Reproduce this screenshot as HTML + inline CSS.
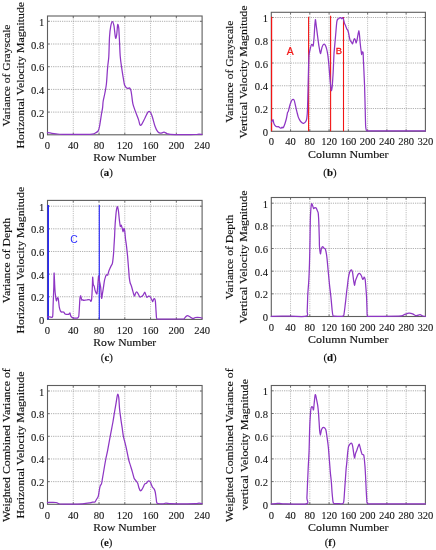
<!DOCTYPE html>
<html><head><meta charset="utf-8"><title>Figure</title>
<style>
html,body{margin:0;padding:0;background:#fff;}
body{width:436px;height:550px;overflow:hidden;}
svg{display:block;}
text{font-family:"Liberation Serif",serif;fill:#111;stroke:#111;stroke-width:0.15px;}
.tk{font-size:10.6px;stroke-width:0.08px;}
.lb{font-size:11.4px;}
.cap{font-size:10.8px;}
.ann{font-family:"Liberation Sans",sans-serif;font-size:10.4px;stroke-width:0.25px;}
</style></head><body>
<svg width="436" height="550" viewBox="0 0 436 550">
<rect width="436" height="550" fill="#fff"/>

<g id="plot-a">
<path d="M73.27,16.00V134.80M99.03,16.00V134.80M124.80,16.00V134.80M150.57,16.00V134.80M176.33,16.00V134.80" fill="none" stroke="#a4a4a4" stroke-width="1" stroke-dasharray="0.7 1.12"/>
<path d="M47.50,112.10H202.10M47.50,89.40H202.10M47.50,66.70H202.10M47.50,44.00H202.10M47.50,21.30H202.10" fill="none" stroke="#8e8e8e" stroke-width="1" stroke-dasharray="0.7 1.12"/>
<rect x="47.50" y="16.00" width="154.60" height="118.80" fill="none" stroke="#5e5e5e" stroke-width="1.1"/>
<path d="M73.27,16.00v2M73.27,134.80v-2M99.03,16.00v2M99.03,134.80v-2M124.80,16.00v2M124.80,134.80v-2M150.57,16.00v2M150.57,134.80v-2M176.33,16.00v2M176.33,134.80v-2M47.50,112.10h2M202.10,112.10h-2M47.50,89.40h2M202.10,89.40h-2M47.50,66.70h2M202.10,66.70h-2M47.50,44.00h2M202.10,44.00h-2M47.50,21.30h2M202.10,21.30h-2" fill="none" stroke="#5e5e5e" stroke-width="0.9"/>
<path d="M47.5,132.7C48.2,132.8 50.3,133.1 52.0,133.3C53.7,133.5 55.3,133.8 57.5,134.0C59.7,134.2 61.2,134.2 65.0,134.3C68.8,134.4 75.8,134.4 80.0,134.4C84.2,134.4 87.7,134.4 90.0,134.3C92.3,134.2 92.8,134.1 93.8,133.8C94.8,133.6 95.0,133.3 95.7,132.8C96.4,132.3 97.6,132.0 98.2,130.9C98.8,129.8 99.0,129.1 99.5,126.5C100.0,123.9 100.8,118.4 101.3,115.2C101.8,112.0 102.3,110.0 102.6,107.6C102.9,105.2 102.8,103.4 103.2,101.0C103.6,98.6 104.4,95.8 104.9,93.0C105.4,90.2 105.9,88.4 106.4,84.0C106.9,79.6 107.2,71.3 107.7,66.7C108.1,62.1 108.5,61.4 108.8,56.5C109.1,51.6 109.2,42.3 109.5,37.2C109.8,32.1 110.3,28.5 110.8,25.9C111.3,23.3 111.9,21.5 112.4,21.5C112.9,21.5 113.5,23.5 114.0,25.9C114.4,28.3 114.9,34.0 115.2,36.0C115.5,38.0 115.7,38.4 115.9,38.2C116.2,38.0 116.4,36.8 116.7,34.7C117.0,32.7 117.3,27.6 117.5,25.9C117.7,24.2 117.8,24.2 118.0,24.6C118.2,25.0 118.5,25.2 118.8,28.4C119.0,31.5 119.4,38.9 119.6,43.5C119.8,48.1 119.9,52.1 120.2,56.0C120.5,59.9 121.0,63.3 121.5,66.7C122.0,70.1 122.5,73.5 123.0,76.4C123.5,79.3 123.9,82.3 124.3,84.0C124.7,85.7 125.0,86.1 125.6,86.8C126.2,87.5 127.1,88.2 127.8,88.4C128.5,88.6 129.2,87.6 129.7,88.0C130.2,88.4 130.7,89.6 131.0,90.9C131.3,92.2 131.5,93.8 131.8,96.0C132.1,98.2 132.3,101.2 132.9,103.8C133.5,106.4 134.5,108.8 135.4,111.4C136.3,114.0 137.7,117.3 138.5,119.6C139.3,121.9 139.5,124.2 140.0,125.0C140.5,125.8 140.9,125.5 141.7,124.3C142.5,123.1 144.0,119.9 145.0,118.0C146.0,116.1 146.9,113.8 147.6,112.7C148.3,111.6 148.6,111.4 149.1,111.4C149.6,111.4 150.1,111.7 150.7,112.7C151.3,113.8 151.9,115.4 152.6,117.7C153.3,120.0 154.2,124.2 155.1,126.5C155.9,128.8 156.8,130.5 157.7,131.6C158.5,132.7 159.4,133.0 160.2,133.2C161.0,133.4 162.0,132.8 162.7,132.6C163.4,132.4 163.9,132.1 164.6,132.3C165.3,132.5 166.1,133.2 167.1,133.6C168.1,133.9 168.2,134.2 170.3,134.4C172.5,134.6 175.9,134.5 180.0,134.5C184.1,134.5 191.8,134.6 195.0,134.5C198.2,134.4 197.8,134.2 199.0,134.2C200.2,134.2 201.5,134.3 202.0,134.3" fill="none" stroke="#8e36c4" stroke-width="1.25" stroke-linejoin="round" stroke-linecap="round"/>
<text class="tk" x="47.50" y="149.40" text-anchor="middle">0</text>
<text class="tk" x="73.27" y="149.40" text-anchor="middle">40</text>
<text class="tk" x="99.03" y="149.40" text-anchor="middle">80</text>
<text class="tk" x="124.80" y="149.40" text-anchor="middle">120</text>
<text class="tk" x="150.57" y="149.40" text-anchor="middle">160</text>
<text class="tk" x="176.33" y="149.40" text-anchor="middle">200</text>
<text class="tk" x="202.10" y="149.40" text-anchor="middle">240</text>
<text class="tk" x="44.20" y="139.30" text-anchor="end">0</text>
<text class="tk" x="44.20" y="116.60" text-anchor="end">0.2</text>
<text class="tk" x="44.20" y="93.90" text-anchor="end">0.4</text>
<text class="tk" x="44.20" y="71.20" text-anchor="end">0.6</text>
<text class="tk" x="44.20" y="48.50" text-anchor="end">0.8</text>
<text class="tk" x="44.20" y="25.80" text-anchor="end">1</text>
<text class="lb" x="124.80" y="161.40" text-anchor="middle" textLength="62.9" lengthAdjust="spacingAndGlyphs">Row Number</text>
<text class="lb" transform="translate(10.0,75.5) rotate(-90)" text-anchor="middle" textLength="102.0" lengthAdjust="spacingAndGlyphs">Variance of Grayscale</text>
<text class="lb" transform="translate(24.2,75.2) rotate(-90)" text-anchor="middle" textLength="146.6" lengthAdjust="spacingAndGlyphs">Horizontal Velocity Magnitude</text>
<text class="cap" x="106.5" y="176.10" text-anchor="middle">(<tspan font-weight="bold">a</tspan>)</text>
</g>
<g id="plot-b">
<path d="M290.56,12.30V131.30M309.82,12.30V131.30M329.09,12.30V131.30M348.35,12.30V131.30M367.61,12.30V131.30M386.88,12.30V131.30M406.14,12.30V131.30" fill="none" stroke="#a4a4a4" stroke-width="1" stroke-dasharray="0.7 1.12"/>
<path d="M271.30,108.54H425.40M271.30,85.78H425.40M271.30,63.02H425.40M271.30,40.26H425.40M271.30,17.50H425.40" fill="none" stroke="#8e8e8e" stroke-width="1" stroke-dasharray="0.7 1.12"/>
<rect x="271.30" y="12.30" width="154.10" height="119.00" fill="none" stroke="#5e5e5e" stroke-width="1.1"/>
<path d="M290.56,12.30v2M290.56,131.30v-2M309.82,12.30v2M309.82,131.30v-2M329.09,12.30v2M329.09,131.30v-2M348.35,12.30v2M348.35,131.30v-2M367.61,12.30v2M367.61,131.30v-2M386.88,12.30v2M386.88,131.30v-2M406.14,12.30v2M406.14,131.30v-2M271.30,108.54h2M425.40,108.54h-2M271.30,85.78h2M425.40,85.78h-2M271.30,63.02h2M425.40,63.02h-2M271.30,40.26h2M425.40,40.26h-2M271.30,17.50h2M425.40,17.50h-2" fill="none" stroke="#5e5e5e" stroke-width="0.9"/>
<line x1="271.60" y1="16.80" x2="271.60" y2="131.30" stroke="#f21515" stroke-width="1.2"/>
<line x1="308.60" y1="16.80" x2="308.60" y2="131.30" stroke="#f21515" stroke-width="1.1"/>
<line x1="330.60" y1="15.80" x2="330.60" y2="131.30" stroke="#f21515" stroke-width="1.1"/>
<line x1="343.50" y1="17.00" x2="343.50" y2="131.30" stroke="#f21515" stroke-width="1.1"/>
<path d="M271.5,122.0C271.7,121.7 272.7,119.5 273.0,119.6C273.3,119.7 273.5,122.1 273.7,122.8C273.9,123.5 274.5,124.8 274.9,125.3C275.3,125.8 276.4,126.6 276.8,126.8C277.2,127.0 277.9,126.5 278.3,126.6C278.7,126.7 279.7,127.6 280.0,127.8C280.3,128.0 281.0,128.3 281.2,128.2C281.4,128.1 281.9,127.2 282.1,127.2C282.3,127.2 282.8,128.0 283.1,127.8C283.4,127.6 284.0,126.3 284.4,125.3C284.8,124.3 285.9,120.5 286.3,119.0C286.7,117.5 287.3,113.6 287.5,112.7C287.7,111.8 288.2,111.9 288.4,111.2C288.6,110.5 289.1,108.2 289.4,107.0C289.7,105.8 290.9,102.2 291.3,101.3C291.7,100.4 292.3,99.7 292.6,99.5C292.9,99.3 293.6,99.3 293.9,99.8C294.2,100.3 294.8,102.5 295.1,103.9C295.4,105.3 296.4,109.9 296.8,111.4C297.2,112.9 297.9,116.0 298.3,117.1C298.7,118.2 299.8,120.2 300.2,120.9C300.6,121.6 301.6,122.5 302.0,122.8C302.4,123.1 303.5,123.4 303.9,123.2C304.3,123.0 305.5,122.1 305.8,121.5C306.1,120.9 306.6,119.9 306.8,118.4C307.0,116.9 307.4,112.2 307.5,108.9C307.6,105.6 307.9,94.5 308.0,90.0C308.1,85.5 308.4,74.1 308.5,70.0C308.6,65.9 308.8,57.7 309.0,55.2C309.2,52.7 309.9,50.1 310.2,48.9C310.5,47.7 311.2,45.0 311.5,44.5C311.8,44.0 312.4,44.8 312.6,45.0C312.8,45.2 313.0,46.7 313.2,45.8C313.4,44.9 313.9,39.5 314.1,37.0C314.3,34.5 314.7,26.4 314.9,24.4C315.1,22.4 315.3,19.3 315.5,19.6C315.7,19.9 316.1,24.9 316.4,26.9C316.7,28.9 317.4,34.8 317.7,37.0C318.0,39.2 318.6,44.1 318.9,45.8C319.2,47.5 319.7,50.6 319.9,51.5C320.1,52.4 320.4,53.7 320.6,53.5C320.8,53.3 321.2,50.7 321.4,50.0C321.6,49.3 321.9,47.7 322.1,47.1C322.3,46.5 323.0,44.9 323.3,44.6C323.6,44.3 324.3,44.1 324.6,44.3C324.9,44.5 325.6,45.7 325.9,46.5C326.2,47.3 326.9,49.9 327.1,51.0C327.3,52.1 327.8,54.5 328.0,56.3C328.2,58.1 328.8,63.8 329.0,66.4C329.2,69.0 329.8,76.5 330.0,79.0C330.2,81.5 330.7,86.4 330.9,87.8C331.1,89.2 331.3,90.7 331.5,90.6C331.7,90.5 332.0,88.4 332.2,86.6C332.4,84.8 332.8,78.0 333.0,75.2C333.2,72.4 333.5,65.1 333.6,62.6C333.7,60.1 333.9,55.9 334.0,53.8C334.1,51.7 334.6,47.1 334.8,44.6C335.0,42.1 335.7,34.6 335.9,32.0C336.1,29.4 336.6,23.4 336.8,21.9C337.0,20.4 337.4,19.5 337.6,19.1C337.8,18.7 338.6,18.9 338.8,18.7C339.0,18.5 339.5,17.9 339.7,17.8C339.9,17.7 340.4,17.5 340.6,17.6C340.8,17.7 341.4,18.7 341.6,18.7C341.8,18.7 342.4,17.4 342.6,17.5C342.8,17.6 343.3,18.6 343.5,19.3C343.7,20.0 344.2,22.4 344.4,23.1C344.6,23.8 345.3,25.0 345.6,25.7C345.9,26.4 346.5,28.3 346.7,28.8C346.9,29.3 347.5,29.7 347.7,30.1C347.9,30.5 348.3,31.8 348.5,32.6C348.7,33.4 349.1,36.1 349.3,37.0C349.5,37.9 349.9,39.9 350.2,40.5C350.5,41.1 351.2,41.8 351.5,42.2C351.8,42.6 352.4,44.0 352.6,43.8C352.8,43.6 353.4,41.1 353.6,40.5C353.8,39.9 354.3,38.6 354.5,38.6C354.7,38.6 355.2,39.7 355.4,40.2C355.6,40.7 355.9,43.1 356.1,43.1C356.3,43.1 356.8,41.1 357.0,40.2C357.2,39.3 357.7,36.2 357.9,35.1C358.1,34.0 358.7,30.7 358.9,30.7C359.1,30.7 359.3,33.6 359.5,35.1C359.7,36.6 360.0,41.4 360.2,43.3C360.4,45.2 361.0,50.2 361.2,51.5C361.4,52.8 361.5,54.4 361.6,54.5C361.7,54.6 362.0,52.2 362.2,52.0C362.4,51.8 363.0,51.6 363.1,52.5C363.2,53.4 363.3,57.7 363.4,60.1C363.5,62.5 363.9,69.6 364.0,72.7C364.1,75.8 364.5,82.8 364.6,87.0C364.7,91.2 365.1,104.4 365.2,108.9C365.3,113.4 365.5,122.9 365.6,125.3C365.7,127.7 366.0,129.0 366.2,129.7C366.4,130.4 366.1,130.8 367.7,130.9C369.3,131.0 376.2,130.9 380.0,130.9C383.8,130.9 394.7,130.9 400.0,130.9C405.3,130.9 422.4,130.9 425.4,130.9" fill="none" stroke="#8e36c4" stroke-width="1.25" stroke-linejoin="round" stroke-linecap="round"/>
<text class="ann" x="286.7" y="54.6" style="fill:#f21515;stroke:#f21515;font-size:10.4px;stroke-width:0.2px">A</text>
<text class="ann" x="335.7" y="54.4" style="fill:#f21515;stroke:#f21515;font-size:9.4px;stroke-width:0.3px">B</text>
<text class="tk" x="271.30" y="145.40" text-anchor="middle">0</text>
<text class="tk" x="290.56" y="145.40" text-anchor="middle">40</text>
<text class="tk" x="309.82" y="145.40" text-anchor="middle">80</text>
<text class="tk" x="329.09" y="145.40" text-anchor="middle">120</text>
<text class="tk" x="348.35" y="145.40" text-anchor="middle">160</text>
<text class="tk" x="367.61" y="145.40" text-anchor="middle">200</text>
<text class="tk" x="386.88" y="145.40" text-anchor="middle">240</text>
<text class="tk" x="406.14" y="145.40" text-anchor="middle">280</text>
<text class="tk" x="425.40" y="145.40" text-anchor="middle">320</text>
<text class="tk" x="268.00" y="135.80" text-anchor="end">0</text>
<text class="tk" x="268.00" y="113.04" text-anchor="end">0.2</text>
<text class="tk" x="268.00" y="90.28" text-anchor="end">0.4</text>
<text class="tk" x="268.00" y="67.52" text-anchor="end">0.6</text>
<text class="tk" x="268.00" y="44.76" text-anchor="end">0.8</text>
<text class="tk" x="268.00" y="22.00" text-anchor="end">1</text>
<text class="lb" x="348.35" y="158.00" text-anchor="middle" textLength="80.5" lengthAdjust="spacingAndGlyphs">Column Number</text>
<text class="lb" transform="translate(232.5,71.65) rotate(-90)" text-anchor="middle" textLength="102.1" lengthAdjust="spacingAndGlyphs">Variance of Grayscale</text>
<text class="lb" transform="translate(246.7,71.95) rotate(-90)" text-anchor="middle" textLength="132.9" lengthAdjust="spacingAndGlyphs">Vertical Velocity Magnitude</text>
<text class="cap" x="329.9" y="175.90" text-anchor="middle">(<tspan font-weight="bold">b</tspan>)</text>
</g>
<g id="plot-c">
<path d="M73.27,200.40V319.40M99.03,200.40V319.40M124.80,200.40V319.40M150.57,200.40V319.40M176.33,200.40V319.40" fill="none" stroke="#a4a4a4" stroke-width="1" stroke-dasharray="0.7 1.12"/>
<path d="M47.50,296.76H202.10M47.50,274.12H202.10M47.50,251.48H202.10M47.50,228.84H202.10M47.50,206.20H202.10" fill="none" stroke="#8e8e8e" stroke-width="1" stroke-dasharray="0.7 1.12"/>
<rect x="47.50" y="200.40" width="154.60" height="119.00" fill="none" stroke="#5e5e5e" stroke-width="1.1"/>
<path d="M73.27,200.40v2M73.27,319.40v-2M99.03,200.40v2M99.03,319.40v-2M124.80,200.40v2M124.80,319.40v-2M150.57,200.40v2M150.57,319.40v-2M176.33,200.40v2M176.33,319.40v-2M47.50,296.76h2M202.10,296.76h-2M47.50,274.12h2M202.10,274.12h-2M47.50,251.48h2M202.10,251.48h-2M47.50,228.84h2M202.10,228.84h-2M47.50,206.20h2M202.10,206.20h-2" fill="none" stroke="#5e5e5e" stroke-width="0.9"/>
<line x1="48.20" y1="205.00" x2="48.20" y2="319.40" stroke="#2a2af8" stroke-width="1.6"/>
<line x1="99.30" y1="205.00" x2="99.30" y2="319.40" stroke="#2a2af8" stroke-width="1.15"/>
<path d="M47.5,316.8C47.6,316.8 48.5,316.8 49.0,316.8C49.5,316.8 52.2,318.0 52.6,316.8C53.0,315.6 53.0,308.1 53.1,305.2C53.2,302.3 53.7,290.8 53.8,287.6C53.9,284.4 54.0,273.3 54.1,273.0C54.2,272.7 54.6,282.9 54.7,285.0C54.8,287.1 55.1,292.3 55.3,293.9C55.5,295.5 56.2,300.3 56.4,300.8C56.6,301.3 56.9,299.2 57.0,298.9C57.1,298.6 57.8,297.6 57.9,297.7C58.0,297.8 58.4,299.2 58.5,300.2C58.6,301.2 59.2,306.6 59.4,307.7C59.6,308.8 60.2,310.4 60.4,310.9C60.6,311.3 61.5,312.1 61.7,312.2C62.0,312.3 62.7,311.8 62.9,311.8C63.1,311.8 63.7,312.0 63.9,312.2C64.1,312.4 64.6,313.6 64.8,313.8C65.0,314.0 65.7,314.2 66.1,314.3C66.5,314.4 68.2,314.4 68.6,314.3C69.0,314.2 69.7,312.8 69.9,313.0C70.1,313.2 70.5,315.4 70.7,315.9C71.0,316.4 72.0,317.4 72.4,317.6C72.8,317.8 73.8,318.1 74.3,318.2C74.8,318.2 77.0,318.3 77.4,318.1C77.8,317.9 78.5,317.5 78.7,316.6C78.9,315.7 79.2,310.8 79.3,309.0C79.4,307.2 79.8,300.2 79.9,298.9C80.0,297.6 80.5,295.9 80.6,295.8C80.7,295.7 81.1,297.3 81.2,297.7C81.3,298.1 81.6,300.0 81.8,300.2C82.0,300.4 82.6,299.5 82.8,299.5C83.0,299.5 83.3,300.4 83.7,300.4C84.1,300.4 86.3,299.9 86.9,299.9C87.5,299.8 89.6,299.8 90.0,299.9C90.4,300.0 90.7,301.5 90.9,301.4C91.1,301.3 91.6,300.2 91.7,298.9C91.8,297.6 92.2,290.2 92.3,288.0C92.4,285.8 92.6,277.6 92.7,277.2C92.8,276.8 93.1,283.6 93.3,284.5C93.5,285.4 94.0,285.7 94.2,286.3C94.4,286.9 94.8,289.5 95.0,290.1C95.2,290.7 95.8,292.2 96.0,292.6C96.2,293.0 96.7,294.4 96.9,293.9C97.1,293.4 97.5,289.0 97.6,287.6C97.7,286.2 98.1,281.2 98.2,280.0C98.3,278.8 98.5,275.8 98.6,275.9C98.7,276.0 99.3,279.8 99.5,281.0C99.7,282.2 100.5,285.9 100.7,287.6C100.9,289.3 101.4,297.7 101.6,298.3C101.8,298.9 102.2,295.1 102.4,293.9C102.6,292.7 103.4,287.7 103.6,286.3C103.8,284.9 104.3,281.4 104.5,280.4C104.7,279.4 105.6,276.5 105.8,275.9C106.0,275.3 106.4,274.8 106.6,274.7C106.8,274.6 107.5,275.5 107.7,275.1C107.9,274.7 108.6,271.8 108.9,270.9C109.2,270.0 110.5,267.3 110.8,266.5C111.1,265.7 112.2,264.3 112.4,263.3C112.7,262.3 113.1,258.1 113.3,256.4C113.5,254.7 113.9,248.0 114.0,246.0C114.1,244.0 114.5,238.3 114.6,236.0C114.7,233.7 115.0,225.6 115.2,223.2C115.4,220.8 116.0,213.6 116.2,211.9C116.4,210.2 117.2,206.7 117.4,206.6C117.6,206.5 118.2,209.3 118.4,210.6C118.6,211.9 119.1,217.8 119.3,219.4C119.5,221.0 120.1,225.8 120.3,226.4C120.5,227.0 121.1,224.9 121.3,225.1C121.5,225.3 122.0,227.6 122.2,228.3C122.4,229.0 122.8,231.8 123.0,231.8C123.2,231.8 123.8,228.4 124.0,228.3C124.2,228.2 124.5,229.7 124.7,230.8C124.9,231.9 125.3,237.5 125.5,239.0C125.7,240.5 126.3,244.3 126.5,246.0C126.7,247.7 127.4,254.2 127.6,256.4C127.8,258.6 128.3,265.6 128.5,267.7C128.7,269.8 129.1,276.3 129.3,277.8C129.5,279.3 130.0,282.2 130.2,283.0C130.4,283.8 130.9,284.7 131.2,285.5C131.5,286.3 132.6,290.2 132.9,291.3C133.2,292.4 134.1,295.9 134.4,296.1C134.7,296.3 135.3,293.6 135.6,293.2C135.8,292.8 136.6,291.9 136.9,292.0C137.2,292.1 137.9,293.4 138.2,293.9C138.5,294.4 139.5,296.8 139.8,297.0C140.2,297.2 141.3,296.6 141.7,296.4C142.1,296.1 143.2,294.9 143.5,294.5C143.8,294.1 144.6,292.0 144.8,292.0C145.0,292.0 145.5,294.0 145.7,294.5C145.9,295.0 146.6,297.2 146.9,297.4C147.2,297.6 148.3,296.2 148.6,296.1C148.9,296.0 149.8,296.3 150.1,296.6C150.4,296.9 151.1,298.2 151.3,298.7C151.6,299.2 152.4,301.6 152.6,301.7C152.8,301.8 153.4,299.5 153.6,299.2C153.8,298.9 154.4,298.5 154.6,298.7C154.8,298.9 155.3,300.4 155.4,301.4C155.5,302.4 155.8,307.5 155.9,309.0C156.0,310.5 156.3,315.6 156.4,316.6C156.5,317.6 156.3,318.8 157.2,319.0C158.1,319.2 162.4,319.1 165.0,319.1C167.6,319.1 181.0,319.1 182.9,319.0C184.8,318.9 184.2,318.6 184.5,318.3C184.8,318.1 185.7,316.8 186.0,316.5C186.3,316.2 187.2,315.6 187.5,315.6C187.8,315.6 188.7,316.0 189.0,316.2C189.3,316.4 190.6,317.4 191.0,317.6C191.4,317.8 192.9,318.5 193.2,318.5C193.5,318.5 194.1,318.1 194.3,318.0C194.5,317.9 195.0,317.6 195.3,317.5C195.6,317.4 197.0,317.3 197.5,317.3C198.0,317.3 199.4,317.4 199.9,317.5C200.4,317.6 201.9,318.1 202.1,318.2" fill="none" stroke="#8e36c4" stroke-width="1.25" stroke-linejoin="round" stroke-linecap="round"/>
<text class="ann" x="70.2" y="243.2" style="fill:#3030ff;stroke:#3030ff;font-size:10.4px;stroke-width:0px">C</text>
<text class="tk" x="47.50" y="334.00" text-anchor="middle">0</text>
<text class="tk" x="73.27" y="334.00" text-anchor="middle">40</text>
<text class="tk" x="99.03" y="334.00" text-anchor="middle">80</text>
<text class="tk" x="124.80" y="334.00" text-anchor="middle">120</text>
<text class="tk" x="150.57" y="334.00" text-anchor="middle">160</text>
<text class="tk" x="176.33" y="334.00" text-anchor="middle">200</text>
<text class="tk" x="202.10" y="334.00" text-anchor="middle">240</text>
<text class="tk" x="44.20" y="323.90" text-anchor="end">0</text>
<text class="tk" x="44.20" y="301.26" text-anchor="end">0.2</text>
<text class="tk" x="44.20" y="278.62" text-anchor="end">0.4</text>
<text class="tk" x="44.20" y="255.98" text-anchor="end">0.6</text>
<text class="tk" x="44.20" y="233.34" text-anchor="end">0.8</text>
<text class="tk" x="44.20" y="210.70" text-anchor="end">1</text>
<text class="lb" x="124.80" y="346.40" text-anchor="middle" textLength="62.9" lengthAdjust="spacingAndGlyphs">Row Number</text>
<text class="lb" transform="translate(9.8,260.55) rotate(-90)" text-anchor="middle" textLength="85.4" lengthAdjust="spacingAndGlyphs">Variance of Depth</text>
<text class="lb" transform="translate(24.2,260.2) rotate(-90)" text-anchor="middle" textLength="146.7" lengthAdjust="spacingAndGlyphs">Horizontal Velocity Magnitude</text>
<text class="cap" x="106.8" y="361.10" text-anchor="middle">(<tspan font-weight="bold">c</tspan>)</text>
</g>
<g id="plot-d">
<path d="M290.56,197.50V316.50M309.82,197.50V316.50M329.09,197.50V316.50M348.35,197.50V316.50M367.61,197.50V316.50M386.88,197.50V316.50M406.14,197.50V316.50" fill="none" stroke="#a4a4a4" stroke-width="1" stroke-dasharray="0.7 1.12"/>
<path d="M271.30,293.84H425.40M271.30,271.18H425.40M271.30,248.52H425.40M271.30,225.86H425.40M271.30,203.20H425.40" fill="none" stroke="#8e8e8e" stroke-width="1" stroke-dasharray="0.7 1.12"/>
<rect x="271.30" y="197.50" width="154.10" height="119.00" fill="none" stroke="#5e5e5e" stroke-width="1.1"/>
<path d="M290.56,197.50v2M290.56,316.50v-2M309.82,197.50v2M309.82,316.50v-2M329.09,197.50v2M329.09,316.50v-2M348.35,197.50v2M348.35,316.50v-2M367.61,197.50v2M367.61,316.50v-2M386.88,197.50v2M386.88,316.50v-2M406.14,197.50v2M406.14,316.50v-2M271.30,293.84h2M425.40,293.84h-2M271.30,271.18h2M425.40,271.18h-2M271.30,248.52h2M425.40,248.52h-2M271.30,225.86h2M425.40,225.86h-2M271.30,203.20h2M425.40,203.20h-2" fill="none" stroke="#5e5e5e" stroke-width="0.9"/>
<path d="M271.3,316.3C274.1,316.3 284.8,316.2 290.0,316.2C295.2,316.2 303.7,317.0 306.3,316.2C308.9,315.4 307.0,314.1 307.2,310.8C307.4,307.5 307.6,298.7 307.8,294.4C308.0,290.1 308.4,286.7 308.7,282.0C309.0,277.3 309.3,269.3 309.5,263.0C309.7,256.7 309.9,246.3 310.0,240.0C310.1,233.7 310.2,225.5 310.3,221.0C310.4,216.5 310.6,212.6 310.8,210.0C311.0,207.4 311.3,204.5 311.6,203.8C311.9,203.1 312.3,204.8 312.6,205.5C312.9,206.2 313.3,208.3 313.6,208.6C313.9,208.9 314.5,207.7 314.9,207.6C315.3,207.5 315.7,207.5 316.1,208.0C316.5,208.5 317.1,210.0 317.4,210.9C317.7,211.8 318.1,211.6 318.3,213.7C318.5,215.8 318.8,221.4 318.9,225.0C319.0,228.6 319.2,234.7 319.3,238.0C319.4,241.3 319.3,244.4 319.5,246.8C319.7,249.2 320.1,253.5 320.4,253.8C320.7,254.1 321.1,249.8 321.4,248.7C321.7,247.6 322.3,246.7 322.7,246.6C323.1,246.5 323.6,248.0 324.0,248.3C324.4,248.6 324.8,247.8 325.2,248.7C325.6,249.6 326.1,251.8 326.5,254.4C326.9,256.9 327.4,262.2 327.7,265.7C328.0,269.2 328.5,274.5 328.8,277.5C329.1,280.5 329.3,282.7 329.6,285.6C329.9,288.5 330.5,293.1 330.9,296.9C331.3,300.7 331.9,308.0 332.2,310.8C332.5,313.6 332.7,314.8 333.0,315.6C333.3,316.4 332.5,316.1 334.0,316.2C335.5,316.3 341.4,316.6 342.9,316.2C344.4,315.8 343.7,315.2 344.1,313.3C344.5,311.4 345.0,306.2 345.4,303.2C345.8,300.2 346.2,295.6 346.5,293.0C346.8,290.4 347.1,288.2 347.4,286.0C347.7,283.8 348.0,280.3 348.3,278.5C348.6,276.7 348.8,275.2 349.1,274.0C349.4,272.8 349.9,271.4 350.3,270.8C350.7,270.2 351.3,269.6 351.6,269.9C351.9,270.2 352.3,271.1 352.6,272.7C352.9,274.3 353.3,278.4 353.6,280.3C353.9,282.2 354.2,285.2 354.5,285.3C354.8,285.4 355.1,282.0 355.4,280.9C355.7,279.8 356.2,278.6 356.6,277.7C357.0,276.8 357.5,275.3 357.9,274.6C358.3,273.9 358.8,273.4 359.2,273.3C359.6,273.2 360.0,273.7 360.4,274.2C360.8,274.7 361.4,275.7 361.7,276.5C362.0,277.3 362.4,279.0 362.7,279.3C363.0,279.6 363.4,278.7 363.6,278.4C363.8,278.1 364.1,276.9 364.3,277.1C364.5,277.3 365.0,278.0 365.2,279.6C365.4,281.2 365.7,285.3 365.9,287.8C366.1,290.3 366.3,292.7 366.5,296.0C366.7,299.3 366.9,307.0 367.0,310.0C367.1,313.0 366.9,315.1 367.4,316.0C367.8,316.9 365.3,316.3 370.0,316.3C374.7,316.3 393.6,316.4 398.7,316.2C403.8,316.0 402.7,315.1 404.2,314.7C405.7,314.2 407.6,313.3 408.9,313.2C410.2,313.1 411.5,313.4 412.6,313.8C413.7,314.2 415.2,315.6 416.3,315.7C417.4,315.8 419.0,314.7 420.0,314.7C421.0,314.7 422.0,315.8 422.8,316.0C423.6,316.2 425.0,316.3 425.4,316.3" fill="none" stroke="#8e36c4" stroke-width="1.25" stroke-linejoin="round" stroke-linecap="round"/>
<text class="tk" x="271.30" y="331.00" text-anchor="middle">0</text>
<text class="tk" x="290.56" y="331.00" text-anchor="middle">40</text>
<text class="tk" x="309.82" y="331.00" text-anchor="middle">80</text>
<text class="tk" x="329.09" y="331.00" text-anchor="middle">120</text>
<text class="tk" x="348.35" y="331.00" text-anchor="middle">160</text>
<text class="tk" x="367.61" y="331.00" text-anchor="middle">200</text>
<text class="tk" x="386.88" y="331.00" text-anchor="middle">240</text>
<text class="tk" x="406.14" y="331.00" text-anchor="middle">280</text>
<text class="tk" x="425.40" y="331.00" text-anchor="middle">320</text>
<text class="tk" x="268.00" y="321.00" text-anchor="end">0</text>
<text class="tk" x="268.00" y="298.34" text-anchor="end">0.2</text>
<text class="tk" x="268.00" y="275.68" text-anchor="end">0.4</text>
<text class="tk" x="268.00" y="253.02" text-anchor="end">0.6</text>
<text class="tk" x="268.00" y="230.36" text-anchor="end">0.8</text>
<text class="tk" x="268.00" y="207.70" text-anchor="end">1</text>
<text class="lb" x="348.35" y="343.10" text-anchor="middle" textLength="80.5" lengthAdjust="spacingAndGlyphs">Column Number</text>
<text class="lb" transform="translate(232.5,257.15) rotate(-90)" text-anchor="middle" textLength="84.8" lengthAdjust="spacingAndGlyphs">Variance of Depth</text>
<text class="lb" transform="translate(246.7,257.0) rotate(-90)" text-anchor="middle" textLength="132.8" lengthAdjust="spacingAndGlyphs">Vertical Velocity Magnitude</text>
<text class="cap" x="330.1" y="361.30" text-anchor="middle">(<tspan font-weight="bold">d</tspan>)</text>
</g>
<g id="plot-e">
<path d="M73.27,385.50V504.30M99.03,385.50V504.30M124.80,385.50V504.30M150.57,385.50V504.30M176.33,385.50V504.30" fill="none" stroke="#a4a4a4" stroke-width="1" stroke-dasharray="0.7 1.12"/>
<path d="M47.50,481.64H202.10M47.50,458.98H202.10M47.50,436.32H202.10M47.50,413.66H202.10M47.50,391.00H202.10" fill="none" stroke="#8e8e8e" stroke-width="1" stroke-dasharray="0.7 1.12"/>
<rect x="47.50" y="385.50" width="154.60" height="118.80" fill="none" stroke="#5e5e5e" stroke-width="1.1"/>
<path d="M73.27,385.50v2M73.27,504.30v-2M99.03,385.50v2M99.03,504.30v-2M124.80,385.50v2M124.80,504.30v-2M150.57,385.50v2M150.57,504.30v-2M176.33,385.50v2M176.33,504.30v-2M47.50,481.64h2M202.10,481.64h-2M47.50,458.98h2M202.10,458.98h-2M47.50,436.32h2M202.10,436.32h-2M47.50,413.66h2M202.10,413.66h-2M47.50,391.00h2M202.10,391.00h-2" fill="none" stroke="#5e5e5e" stroke-width="0.9"/>
<path d="M47.5,502.5C48.9,502.5 53.9,502.2 56.0,502.5C58.1,502.8 57.7,503.8 60.0,504.0C62.3,504.2 66.2,504.0 70.0,504.0C73.8,504.0 79.2,504.0 82.5,503.8C85.8,503.6 88.3,503.1 90.0,502.8C91.7,502.5 91.7,502.4 92.5,502.2C93.3,502.0 94.4,502.3 95.0,501.9C95.6,501.5 95.8,500.6 96.3,499.7C96.8,498.8 97.7,497.9 98.2,496.5C98.7,495.1 98.8,493.2 99.1,491.5C99.4,489.8 99.7,487.8 100.1,486.4C100.5,485.0 101.2,484.8 101.6,483.3C102.0,481.8 102.2,479.8 102.6,477.6C103.0,475.4 103.4,473.1 103.9,470.0C104.4,466.9 105.2,462.3 105.8,459.0C106.4,455.7 107.0,454.0 107.7,450.2C108.4,446.4 109.3,441.2 110.2,436.3C111.1,431.4 112.4,425.1 113.1,421.0C113.8,416.9 114.1,414.5 114.6,411.7C115.1,408.9 115.5,406.5 115.9,404.2C116.3,401.9 116.6,399.6 116.9,397.9C117.2,396.2 117.4,394.1 117.7,394.1C118.0,394.1 118.5,395.4 118.8,397.9C119.1,400.4 119.2,405.6 119.6,409.2C119.9,412.8 120.5,416.2 120.9,419.3C121.3,422.4 121.8,425.2 122.2,428.0C122.6,430.8 122.8,433.2 123.4,436.3C124.0,439.4 125.1,442.6 125.9,446.4C126.8,450.2 127.8,455.8 128.5,459.0C129.2,462.2 129.8,463.3 130.4,465.4C131.0,467.4 131.6,469.2 132.2,471.3C132.8,473.4 133.5,476.6 134.1,478.2C134.7,479.8 135.4,479.9 136.0,480.8C136.6,481.7 137.2,482.2 137.7,483.3C138.2,484.4 138.5,486.5 138.9,487.7C139.3,488.9 139.7,490.2 140.1,490.6C140.5,491.0 141.1,490.6 141.6,490.0C142.1,489.4 142.8,488.0 143.3,487.0C143.8,486.0 144.3,484.5 144.8,483.9C145.3,483.3 145.8,483.7 146.3,483.3C146.8,482.9 147.2,482.0 147.6,481.6C148.0,481.2 148.4,480.7 148.8,480.8C149.2,480.9 149.8,481.3 150.3,482.0C150.8,482.7 151.2,484.3 151.6,485.2C152.0,486.1 152.2,486.8 152.6,487.4C153.0,488.0 153.5,488.0 153.9,488.7C154.3,489.4 154.7,490.0 155.1,491.5C155.5,493.0 155.8,495.9 156.1,497.8C156.4,499.7 156.4,501.9 156.8,502.8C157.2,503.8 157.3,503.3 158.3,503.5C159.3,503.7 161.4,503.9 162.7,503.8C164.0,503.8 164.6,503.2 165.9,503.2C167.2,503.2 168.3,503.6 170.3,503.7C172.3,503.8 173.7,503.8 177.8,503.8C181.9,503.8 191.5,503.7 195.0,503.6C198.5,503.5 197.8,503.2 199.0,503.2C200.2,503.2 201.5,503.5 202.0,503.6" fill="none" stroke="#8e36c4" stroke-width="1.25" stroke-linejoin="round" stroke-linecap="round"/>
<text class="tk" x="47.50" y="518.50" text-anchor="middle">0</text>
<text class="tk" x="73.27" y="518.50" text-anchor="middle">40</text>
<text class="tk" x="99.03" y="518.50" text-anchor="middle">80</text>
<text class="tk" x="124.80" y="518.50" text-anchor="middle">120</text>
<text class="tk" x="150.57" y="518.50" text-anchor="middle">160</text>
<text class="tk" x="176.33" y="518.50" text-anchor="middle">200</text>
<text class="tk" x="202.10" y="518.50" text-anchor="middle">240</text>
<text class="tk" x="44.20" y="508.80" text-anchor="end">0</text>
<text class="tk" x="44.20" y="486.14" text-anchor="end">0.2</text>
<text class="tk" x="44.20" y="463.48" text-anchor="end">0.4</text>
<text class="tk" x="44.20" y="440.82" text-anchor="end">0.6</text>
<text class="tk" x="44.20" y="418.16" text-anchor="end">0.8</text>
<text class="tk" x="44.20" y="395.50" text-anchor="end">1</text>
<text class="lb" x="124.80" y="530.60" text-anchor="middle" textLength="62.9" lengthAdjust="spacingAndGlyphs">Row Number</text>
<text class="lb" transform="translate(9.6,445.1) rotate(-90)" text-anchor="middle" textLength="153.7" lengthAdjust="spacingAndGlyphs">Weighted Combined Variance of</text>
<text class="lb" transform="translate(24.0,445.1) rotate(-90)" text-anchor="middle" textLength="147.0" lengthAdjust="spacingAndGlyphs">Horizontal Velocity Magnitude</text>
<text class="cap" x="106.4" y="545.80" text-anchor="middle">(<tspan font-weight="bold">e</tspan>)</text>
</g>
<g id="plot-f">
<path d="M290.56,385.50V504.30M309.82,385.50V504.30M329.09,385.50V504.30M348.35,385.50V504.30M367.61,385.50V504.30M386.88,385.50V504.30M406.14,385.50V504.30" fill="none" stroke="#a4a4a4" stroke-width="1" stroke-dasharray="0.7 1.12"/>
<path d="M271.30,481.60H425.40M271.30,458.90H425.40M271.30,436.20H425.40M271.30,413.50H425.40M271.30,390.80H425.40" fill="none" stroke="#8e8e8e" stroke-width="1" stroke-dasharray="0.7 1.12"/>
<rect x="271.30" y="385.50" width="154.10" height="118.80" fill="none" stroke="#5e5e5e" stroke-width="1.1"/>
<path d="M290.56,385.50v2M290.56,504.30v-2M309.82,385.50v2M309.82,504.30v-2M329.09,385.50v2M329.09,504.30v-2M348.35,385.50v2M348.35,504.30v-2M367.61,385.50v2M367.61,504.30v-2M386.88,385.50v2M386.88,504.30v-2M406.14,385.50v2M406.14,504.30v-2M271.30,481.60h2M425.40,481.60h-2M271.30,458.90h2M425.40,458.90h-2M271.30,436.20h2M425.40,436.20h-2M271.30,413.50h2M425.40,413.50h-2M271.30,390.80h2M425.40,390.80h-2" fill="none" stroke="#5e5e5e" stroke-width="0.9"/>
<path d="M271.3,503.9C272.0,503.9 274.8,503.7 276.0,503.6C277.2,503.5 277.9,503.3 279.0,503.3C280.1,503.3 278.9,503.7 283.0,503.8C287.1,503.9 302.5,504.7 306.1,503.8C309.7,502.9 306.7,501.2 306.9,497.8C307.1,494.4 307.4,485.9 307.6,481.4C307.8,476.9 308.0,472.7 308.2,468.0C308.4,463.3 308.9,455.9 309.1,450.2C309.3,444.5 309.5,434.6 309.6,430.0C309.8,425.4 309.9,422.2 310.1,419.3C310.3,416.4 310.5,412.4 310.7,410.5C310.9,408.6 311.3,407.2 311.6,406.7C311.9,406.2 312.3,406.8 312.6,407.3C312.9,407.8 313.3,410.4 313.5,409.9C313.7,409.4 313.9,406.2 314.1,404.2C314.3,402.2 314.7,398.0 314.9,396.6C315.1,395.2 315.2,394.4 315.4,394.7C315.6,395.0 316.1,396.9 316.4,398.5C316.7,400.1 317.4,403.2 317.7,405.4C318.0,407.6 318.3,410.5 318.5,413.0C318.7,415.5 318.9,419.4 319.1,422.0C319.3,424.6 319.4,428.0 319.6,430.0C319.8,432.0 320.1,435.1 320.4,435.1C320.7,435.1 321.1,431.1 321.4,430.0C321.7,428.9 322.2,428.2 322.5,427.8C322.8,427.4 323.2,427.4 323.5,427.4C323.8,427.4 324.3,427.6 324.7,428.0C325.1,428.4 325.5,428.6 325.9,430.0C326.3,431.4 326.7,434.9 327.1,437.6C327.5,440.3 328.1,444.5 328.4,447.7C328.7,450.9 329.0,455.4 329.3,459.0C329.6,462.6 330.0,468.6 330.3,472.0C330.6,475.4 331.0,478.1 331.3,481.4C331.6,484.7 331.9,491.0 332.2,494.0C332.5,497.0 332.7,500.2 333.0,501.6C333.3,503.0 333.2,503.2 334.0,503.5C334.8,503.8 336.7,503.7 338.0,503.7C339.3,503.7 342.0,504.0 342.9,503.5C343.8,503.0 343.6,502.7 343.9,500.3C344.2,497.9 344.5,491.3 344.8,487.7C345.1,484.1 345.4,479.3 345.6,476.3C345.8,473.3 346.0,470.2 346.2,468.0C346.4,465.8 346.7,464.1 346.9,461.6C347.1,459.1 347.5,453.8 347.8,451.5C348.1,449.2 348.3,447.5 348.6,446.4C348.9,445.3 349.7,444.4 350.1,443.9C350.6,443.4 351.2,443.0 351.6,443.3C352.0,443.6 352.3,444.4 352.6,445.8C352.9,447.2 353.3,450.9 353.6,452.7C353.9,454.5 354.2,457.8 354.5,458.0C354.8,458.2 355.1,455.1 355.4,454.0C355.7,452.9 356.2,451.9 356.6,450.9C357.0,449.9 357.5,448.1 357.9,447.1C358.3,446.1 358.9,444.1 359.2,444.2C359.5,444.3 359.9,446.6 360.2,447.7C360.5,448.8 360.9,450.5 361.2,451.5C361.5,452.5 361.7,453.8 362.1,454.3C362.5,454.8 363.4,454.3 363.7,455.0C364.0,455.7 364.1,457.3 364.3,459.0C364.5,460.7 364.8,464.2 365.0,466.6C365.2,469.0 365.3,471.5 365.5,475.0C365.7,478.5 366.0,486.2 366.2,490.0C366.4,493.8 366.6,498.0 366.8,500.0C367.0,502.0 366.4,503.0 367.6,503.6C368.8,504.2 366.3,503.8 375.0,503.8C383.7,503.8 417.8,503.8 425.4,503.8" fill="none" stroke="#8e36c4" stroke-width="1.25" stroke-linejoin="round" stroke-linecap="round"/>
<text class="tk" x="271.30" y="518.50" text-anchor="middle">0</text>
<text class="tk" x="290.56" y="518.50" text-anchor="middle">40</text>
<text class="tk" x="309.82" y="518.50" text-anchor="middle">80</text>
<text class="tk" x="329.09" y="518.50" text-anchor="middle">120</text>
<text class="tk" x="348.35" y="518.50" text-anchor="middle">160</text>
<text class="tk" x="367.61" y="518.50" text-anchor="middle">200</text>
<text class="tk" x="386.88" y="518.50" text-anchor="middle">240</text>
<text class="tk" x="406.14" y="518.50" text-anchor="middle">280</text>
<text class="tk" x="425.40" y="518.50" text-anchor="middle">320</text>
<text class="tk" x="268.00" y="508.80" text-anchor="end">0</text>
<text class="tk" x="268.00" y="486.10" text-anchor="end">0.2</text>
<text class="tk" x="268.00" y="463.40" text-anchor="end">0.4</text>
<text class="tk" x="268.00" y="440.70" text-anchor="end">0.6</text>
<text class="tk" x="268.00" y="418.00" text-anchor="end">0.8</text>
<text class="tk" x="268.00" y="395.30" text-anchor="end">1</text>
<text class="lb" x="348.35" y="530.60" text-anchor="middle" textLength="80.5" lengthAdjust="spacingAndGlyphs">Column Number</text>
<text class="lb" transform="translate(232.7,445.2) rotate(-90)" text-anchor="middle" textLength="153.6" lengthAdjust="spacingAndGlyphs">Weighted Combined Variance of</text>
<text class="lb" transform="translate(247.9,444.65) rotate(-90)" text-anchor="middle" textLength="131.2" lengthAdjust="spacingAndGlyphs">vertical Velocity Magnitude</text>
<text class="cap" x="330.1" y="545.80" text-anchor="middle">(<tspan font-weight="bold">f</tspan>)</text>
</g>
</svg></body></html>
